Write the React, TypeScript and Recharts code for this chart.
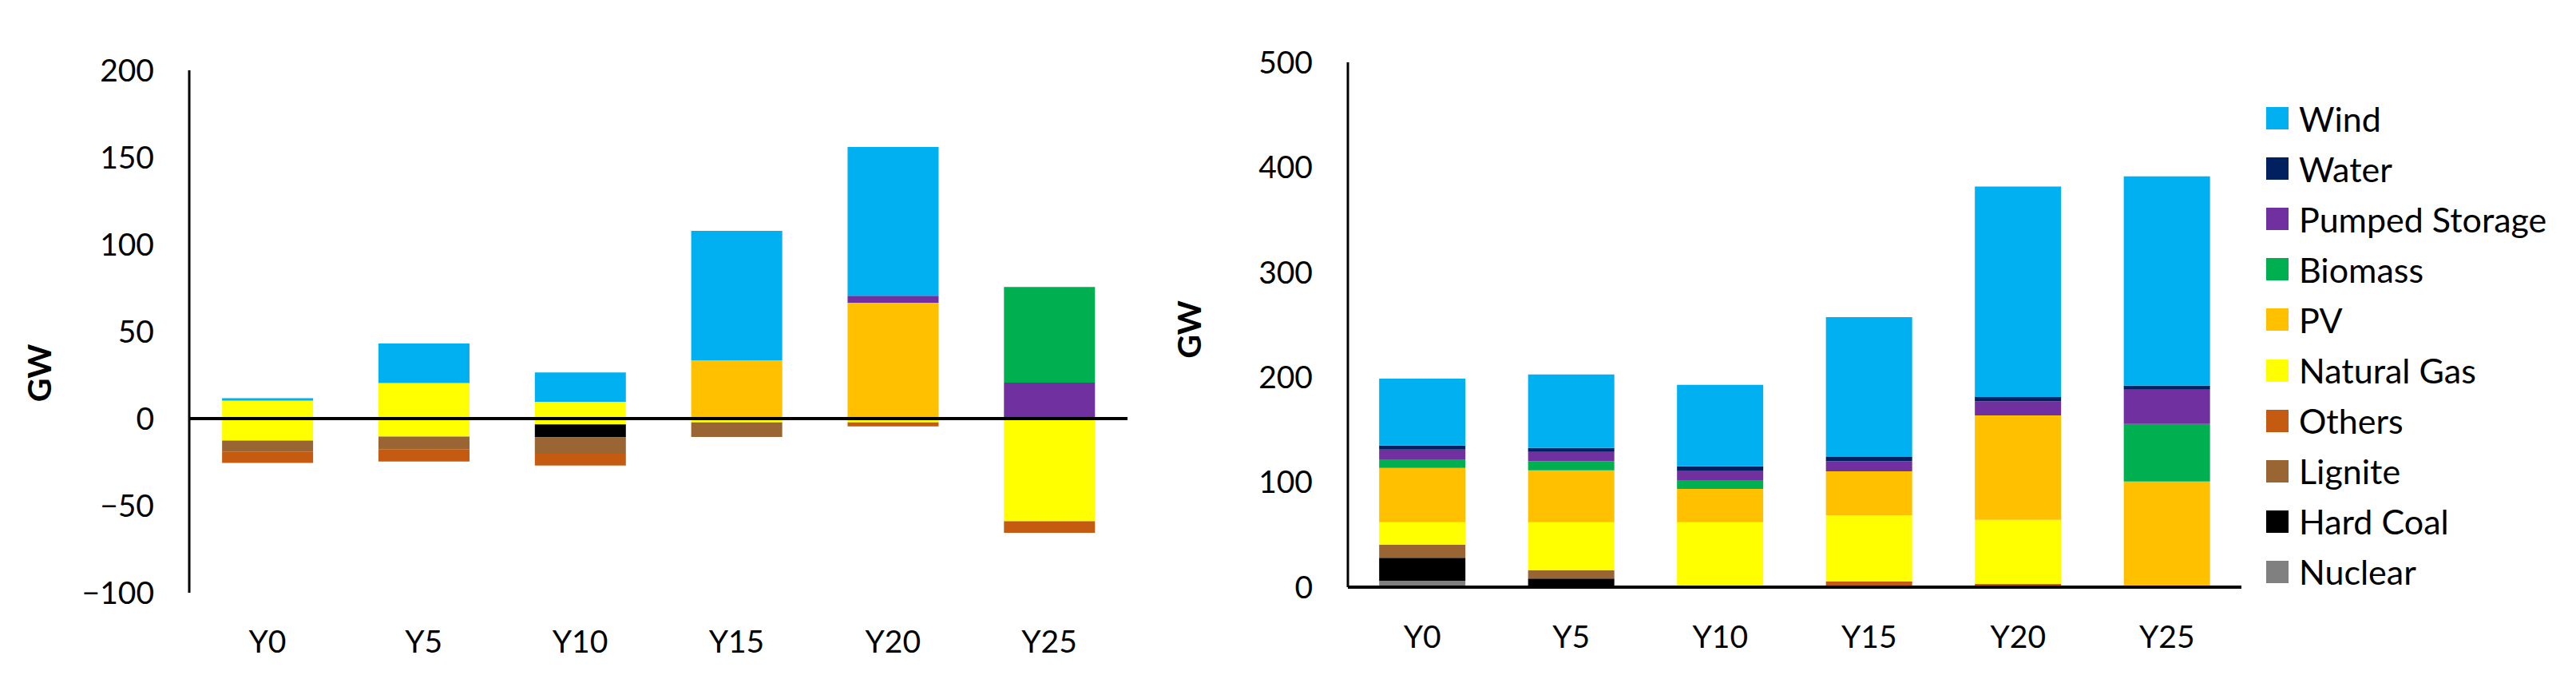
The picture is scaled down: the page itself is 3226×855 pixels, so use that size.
import React from 'react';
import { BarChart, Bar, XAxis, YAxis, ReferenceLine, Legend } from 'recharts';

const years = ['Y0', 'Y5', 'Y10', 'Y15', 'Y20', 'Y25'];

// left chart: capacity change per period (GW)
const dNatGasUp = [10.3, 20.4, 9.6, 0, 0, 0];
const dNatGasDown = [-12.6, -10.3, -3.3, -2.2, -2.2, -59];
const dHardCoal = [0, 0, -7.5, 0, 0, 0];
const dLignite = [-6.6, -7.3, -9.4, -8.4, 0, 0];
const dOthers = [-6.3, -7.0, -6.8, 0, -2.3, -6.6];
const dPV = [0, 0, 0, 33.5, 66.5, 0];
const dPumped = [0, 0, 0, 0, 4.0, 20.6];
const dBiomass = [0, 0, 0, 0, 0, 55];
const dWind = [1.4, 22.7, 16.9, 74.3, 85.5, 0];

// right chart: installed capacity (GW)
const nuclear = [6, 0, 0, 0, 0, 0];
const hardCoal = [22, 8.2, 0, 0, 0, 0];
const lignite = [12.4, 7.8, 0, 0, 0, 0];
const others = [0, 0, 0, 5.4, 3.1, 0];
const natGas = [21.4, 45.9, 61.8, 63, 61, 0];
const pv = [51.7, 49.4, 31.9, 42, 99.5, 100.7];
const biomass = [8.2, 8.6, 8.2, 0, 0, 54.8];
const pumped = [9.3, 8.9, 9.3, 9.7, 13.6, 32.6];
const water = [3.9, 3.9, 3.9, 3.9, 3.9, 3.9];
const wind = [63.7, 70, 77.7, 133.3, 200.5, 199.4];

const leftTicks = [-100, -50, 0, 50, 100, 150, 200];
const rightTicks = [0, 100, 200, 300, 400, 500];

// legend, top to bottom
const legendOrder = ['Wind', 'Water', 'Pumped Storage', 'Biomass', 'PV', 'Natural Gas', 'Others', 'Lignite', 'Hard Coal', 'Nuclear'];

const colors = {
  wind: '#00B0F0',
  water: '#002060',
  pumped: '#7030A0',
  biomass: '#00B050',
  pv: '#FFC000',
  natGas: '#FFFF00',
  others: '#C55A11',
  lignite: '#996633',
  hardCoal: '#000000',
  nuclear: '#808080',
};

const FONT = 'Lato';

const changeData = years.map((year, i) => ({
  year,
  natGasUp: dNatGasUp[i],
  natGasDown: dNatGasDown[i],
  hardCoal: dHardCoal[i],
  lignite: dLignite[i],
  others: dOthers[i],
  pv: dPV[i],
  pumped: dPumped[i],
  biomass: dBiomass[i],
  wind: dWind[i],
}));

const capacityData = years.map((year, i) => ({
  year,
  nuclear: nuclear[i],
  hardCoal: hardCoal[i],
  lignite: lignite[i],
  others: others[i],
  natGas: natGas[i],
  pv: pv[i],
  biomass: biomass[i],
  pumped: pumped[i],
  water: water[i],
  wind: wind[i],
}));

const tickStyle = { fill: '#000', fontSize: 39, fontFamily: FONT };
const fmt = (v: number) => (v < 0 ? '\u2212' + Math.abs(v) : String(v));

const gwLabel = (dx: number, dy: number) => (props: any) => {
  const vb = props.viewBox || { x: 0, y: 0, height: 0 };
  const cx = vb.x + dx;
  const cy = vb.y + vb.height / 2 + dy;
  return (
    <text
      x={cx}
      y={cy}
      transform={`rotate(-90 ${cx} ${cy})`}
      textAnchor="middle"
      dominantBaseline="central"
      fontWeight="bold"
      fontSize={41}
      fontFamily={FONT}
      fill="#000"
    >
      GW
    </text>
  );
};

const LegendList = (props: any) => {
  const items = [...(props.payload || [])].sort(
    (a: any, b: any) => legendOrder.indexOf(a.value) - legendOrder.indexOf(b.value)
  );
  return (
    <div style={{ fontFamily: FONT, fontSize: 43, color: '#000' }}>
      {items.map((item: any) => (
        <div key={item.value} style={{ display: 'flex', alignItems: 'center', height: 63.1 }}>
          <span style={{ width: 28, height: 28, background: item.color, marginRight: 13, flex: 'none' }} />
          <span style={{ whiteSpace: 'nowrap', lineHeight: 1 }}>{item.value}</span>
        </div>
      ))}
    </div>
  );
};

const ChangeChart = () => (
  <BarChart
    width={1440}
    height={855}
    data={changeData}
    stackOffset="sign"
    barCategoryGap="21%"
    margin={{ top: 88, right: 28, bottom: 33, left: 0 }}
  >
    <XAxis
      dataKey="year"
      axisLine={false}
      tickLine={false}
      tickSize={0}
      tickMargin={47}
      height={80}
      tick={tickStyle}
    />
    <YAxis
      width={237}
      domain={[-100, 200]}
      ticks={leftTicks}
      interval={0}
      tickFormatter={fmt}
      axisLine={{ stroke: '#000', strokeWidth: 3 }}
      tickLine={false}
      tickSize={0}
      tickMargin={44}
      tick={tickStyle}
      label={{ content: gwLabel(48.5, 52) }}
    />
    <Bar dataKey="natGasUp" stackId="a" fill={colors.natGas} isAnimationActive={false} />
    <Bar dataKey="natGasDown" stackId="a" fill={colors.natGas} isAnimationActive={false} />
    <Bar dataKey="hardCoal" stackId="a" fill={colors.hardCoal} isAnimationActive={false} />
    <Bar dataKey="lignite" stackId="a" fill={colors.lignite} isAnimationActive={false} />
    <Bar dataKey="others" stackId="a" fill={colors.others} isAnimationActive={false} />
    <Bar dataKey="pv" stackId="a" fill={colors.pv} isAnimationActive={false} />
    <Bar dataKey="pumped" stackId="a" fill={colors.pumped} isAnimationActive={false} />
    <Bar dataKey="biomass" stackId="a" fill={colors.biomass} isAnimationActive={false} />
    <Bar dataKey="wind" stackId="a" fill={colors.wind} isAnimationActive={false} />
    <ReferenceLine y={0} stroke="#000" strokeWidth={4} />
  </BarChart>
);

const CapacityChart = () => (
  <BarChart
    width={1786}
    height={855}
    data={capacityData}
    barCategoryGap="21%"
    margin={{ top: 78, right: 419, bottom: 40, left: 0 }}
  >
    <XAxis
      dataKey="year"
      axisLine={{ stroke: '#000', strokeWidth: 4 }}
      tickLine={false}
      tickSize={0}
      tickMargin={48}
      height={80}
      tick={tickStyle}
    />
    <YAxis
      width={248}
      domain={[0, 500]}
      ticks={rightTicks}
      interval={0}
      axisLine={{ stroke: '#000', strokeWidth: 3 }}
      tickLine={false}
      tickSize={0}
      tickMargin={44}
      tick={tickStyle}
      label={{ content: gwLabel(48, 6) }}
    />
    <Legend
      layout="horizontal"
      verticalAlign="middle"
      align="center"
      content={<LegendList />}
      wrapperStyle={{ left: 1398, top: 116.5, width: 380 }}
    />
    <Bar dataKey="nuclear" name="Nuclear" stackId="b" fill={colors.nuclear} isAnimationActive={false} />
    <Bar dataKey="hardCoal" name="Hard Coal" stackId="b" fill={colors.hardCoal} isAnimationActive={false} />
    <Bar dataKey="lignite" name="Lignite" stackId="b" fill={colors.lignite} isAnimationActive={false} />
    <Bar dataKey="others" name="Others" stackId="b" fill={colors.others} isAnimationActive={false} />
    <Bar dataKey="natGas" name="Natural Gas" stackId="b" fill={colors.natGas} isAnimationActive={false} />
    <Bar dataKey="pv" name="PV" stackId="b" fill={colors.pv} isAnimationActive={false} />
    <Bar dataKey="biomass" name="Biomass" stackId="b" fill={colors.biomass} isAnimationActive={false} />
    <Bar dataKey="pumped" name="Pumped Storage" stackId="b" fill={colors.pumped} isAnimationActive={false} />
    <Bar dataKey="water" name="Water" stackId="b" fill={colors.water} isAnimationActive={false} />
    <Bar dataKey="wind" name="Wind" stackId="b" fill={colors.wind} isAnimationActive={false} />
  </BarChart>
);

export default function App() {
  return (
    <div style={{ position: 'absolute', left: 0, top: 0, width: 3226, height: 855, background: '#fff' }}>
      <div style={{ position: 'absolute', left: 0, top: 0 }}>
        <ChangeChart />
      </div>
      <div style={{ position: 'absolute', left: 1440, top: 0 }}>
        <CapacityChart />
      </div>
    </div>
  );
}
